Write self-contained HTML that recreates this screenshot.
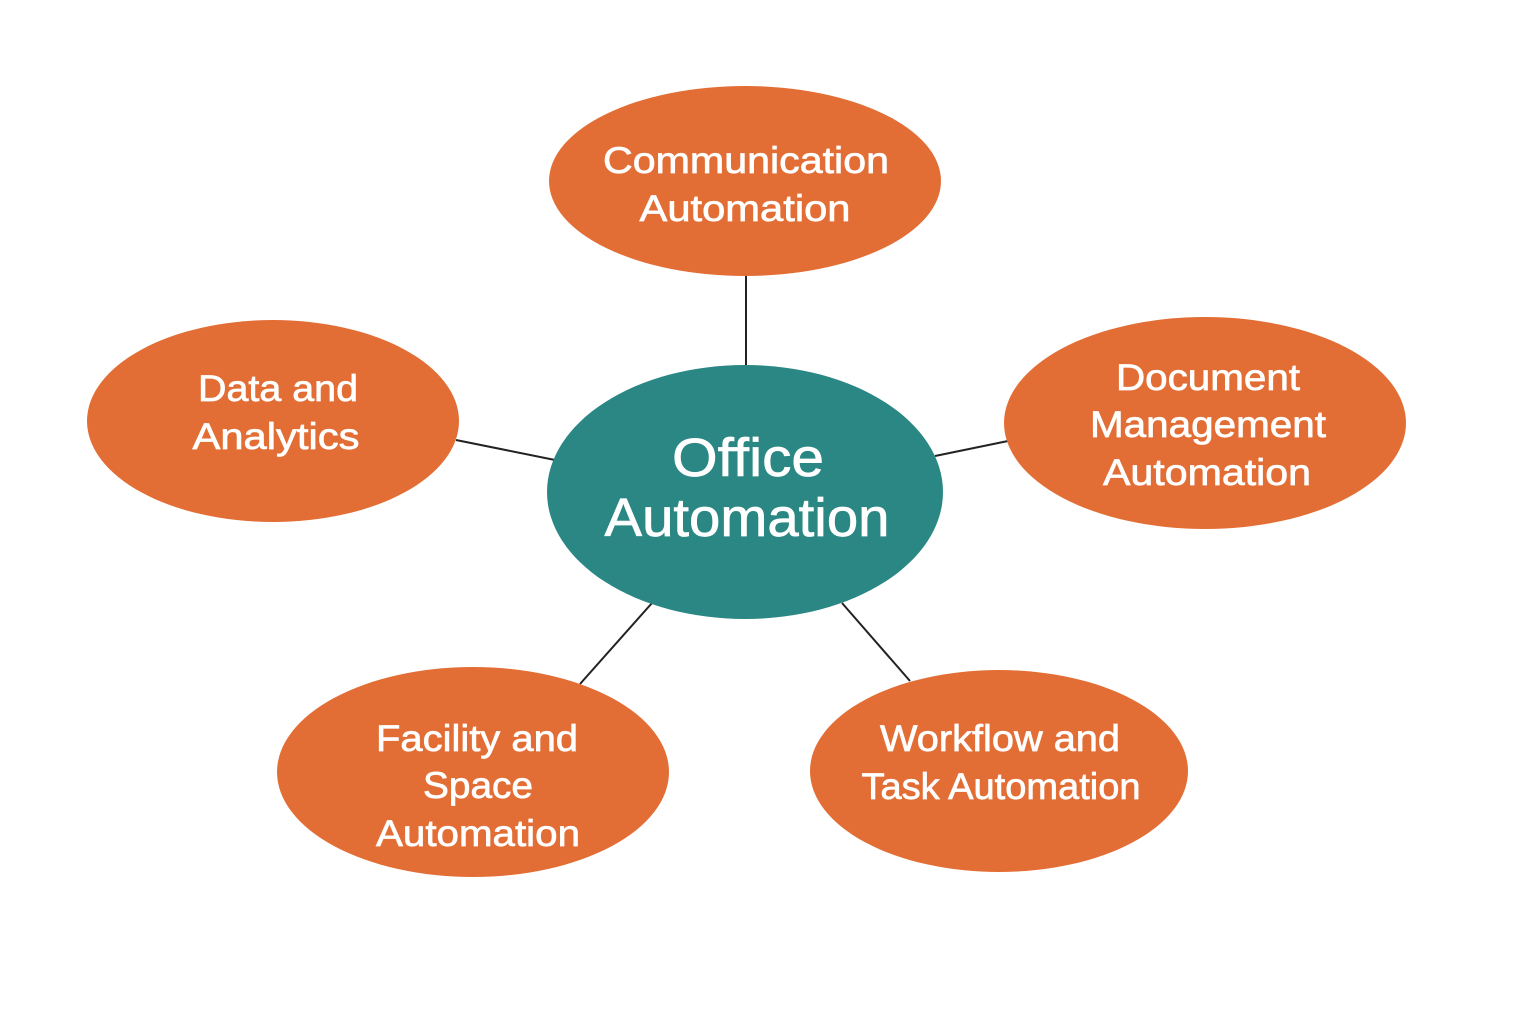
<!DOCTYPE html>
<html><head><style>html,body{margin:0;padding:0;background:#fff;}svg{display:block}</style></head>
<body>
<svg width="1536" height="1024" viewBox="0 0 1536 1024" xmlns="http://www.w3.org/2000/svg">
<g stroke="#222" stroke-width="2">
<line x1="746" y1="274" x2="746" y2="366"/>
<line x1="456" y1="440" x2="555" y2="460"/>
<line x1="935" y1="456" x2="1008" y2="441"/>
<line x1="652" y1="603" x2="580" y2="684"/>
<line x1="842" y1="603" x2="910" y2="681"/>
</g>
<g fill="#e36e35">
<ellipse cx="745" cy="181" rx="196" ry="95"/>
<ellipse cx="273" cy="421" rx="186" ry="101"/>
<ellipse cx="1205" cy="423" rx="201" ry="106"/>
<ellipse cx="473" cy="772" rx="196" ry="105"/>
<ellipse cx="999" cy="771" rx="189" ry="101"/>
</g>
<ellipse cx="745" cy="492" rx="198" ry="127" fill="#2a8784"/>
<g fill="#fff" stroke="#fff" stroke-width="0.7" font-family="Liberation Sans, sans-serif" font-size="37" text-anchor="middle">
<text x="746" y="173" textLength="286" lengthAdjust="spacingAndGlyphs">Communication</text>
<text x="745" y="221" textLength="211" lengthAdjust="spacingAndGlyphs">Automation</text>
<text x="278" y="401" textLength="160" lengthAdjust="spacingAndGlyphs">Data and</text>
<text x="276" y="449" textLength="167" lengthAdjust="spacingAndGlyphs">Analytics</text>
<text x="1208" y="390" textLength="184" lengthAdjust="spacingAndGlyphs">Document</text>
<text x="1208" y="437" textLength="236" lengthAdjust="spacingAndGlyphs">Management</text>
<text x="1207" y="485" textLength="208" lengthAdjust="spacingAndGlyphs">Automation</text>
<text x="477" y="751" textLength="202" lengthAdjust="spacingAndGlyphs">Facility and</text>
<text x="478" y="798" textLength="110" lengthAdjust="spacingAndGlyphs">Space</text>
<text x="478" y="846" textLength="204" lengthAdjust="spacingAndGlyphs">Automation</text>
<text x="1000" y="751" textLength="240" lengthAdjust="spacingAndGlyphs">Workflow and</text>
<text x="1001" y="799" textLength="279" lengthAdjust="spacingAndGlyphs">Task Automation</text>
<text x="748" y="476" font-size="54" textLength="152" lengthAdjust="spacingAndGlyphs">Office</text>
<text x="747" y="536" font-size="54" textLength="285" lengthAdjust="spacingAndGlyphs">Automation</text>
</g>
</svg>
</body></html>
